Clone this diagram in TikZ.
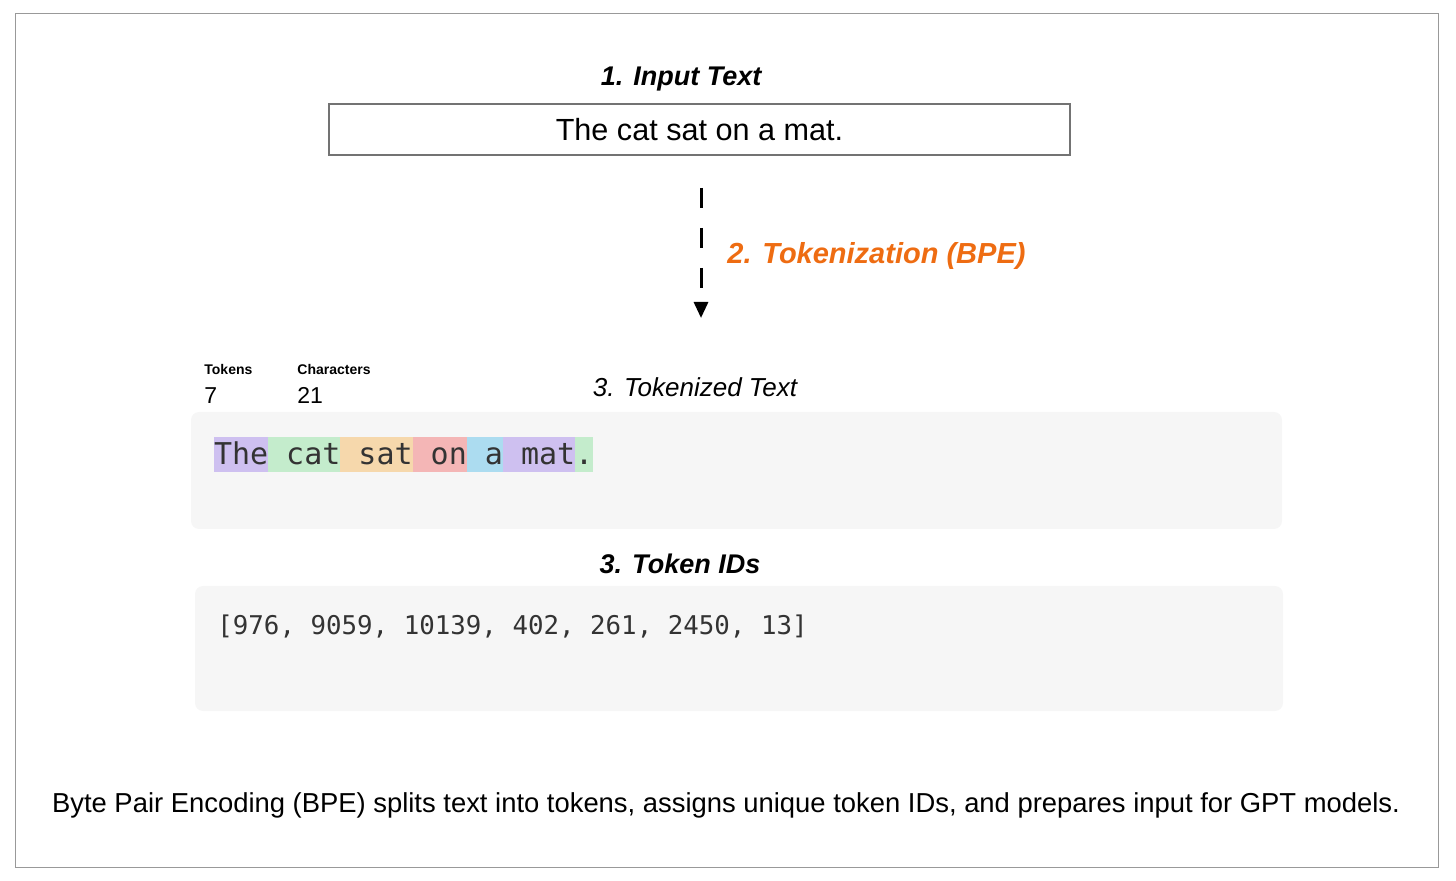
\documentclass[tikz,border=0pt]{standalone}
\usepackage{fontspec}
\setmainfont{Liberation Sans}
\setmonofont{DejaVu Sans Mono}
\usetikzlibrary{arrows.meta,positioning}
\definecolor{bpeorange}{RGB}{238,108,18}
\definecolor{codebg}{RGB}{246,246,246}
\definecolor{tokpurple}{RGB}{206,192,240}
\definecolor{tokgreen}{RGB}{196,236,204}
\definecolor{tokorange}{RGB}{246,216,172}
\definecolor{tokred}{RGB}{244,182,182}
\definecolor{tokblue}{RGB}{172,220,240}
\begin{document}
\begin{tikzpicture}[x=0.5pt,y=-0.5pt,
	title/.style={anchor=base, font=\fontsize{13.5}{16}\selectfont\bfseries\itshape},
	plain/.style={anchor=base west, inner sep=0pt},
	codebox/.style={fill=codebg, rounded corners=4pt},
	tok/.style={inner sep=0pt, outer sep=0pt, text height=14pt, text depth=3.5pt, font=\fontsize{15}{18}\selectfont\ttfamily, text=black!80},
	]
	\useasboundingbox (0,0) rectangle (1456,881);
	\draw[black!40, line width=0.5pt] (15,14) rectangle (1438,867);
	\node[title] (intitle) at (681,86) {1. Input Text};
	\node[draw=black!55, line width=0.8pt, minimum width=370.5pt, minimum height=25.5pt, inner sep=0pt, font=\fontsize{15.3}{18}\selectfont] (inbox) at (699.5,129.5) {The cat sat on a mat.};
	\coordinate (arrtop) at (701,188);
	\coordinate (arrtip) at (701,318);
	\draw[line width=1.5pt, dash pattern=on 10pt off 10pt, -{Triangle[width=7pt,length=8pt]}] (arrtop) -- (arrtip);
	\node[title, anchor=base west, inner sep=0pt, text=bpeorange, font=\fontsize{14.5}{17}\selectfont\bfseries\itshape] (bpe) at (727,264) {2. Tokenization (BPE)};
	\node[plain, font=\fontsize{7}{8}\selectfont\bfseries] (ntoklab) at (204,375) {Tokens};
	\node[plain, font=\fontsize{11.5}{13}\selectfont] (ntok) at (204,404) {7};
	\node[plain, font=\fontsize{7}{8}\selectfont\bfseries] (ncharlab) at (297,375) {Characters};
	\node[plain, font=\fontsize{11.5}{13}\selectfont] (nchar) at (297,404) {21};
	\node[title, font=\fontsize{13}{16}\selectfont\itshape] (toktitle) at (695,397) {3. Tokenized Text};
	\fill[codebox] (191,412) rectangle (1282,529);
	\node[tok, fill=tokpurple, anchor=base west] (t1) at (214,465) {The};
	\node[tok, fill=tokgreen, right=0pt of t1] (t2) {\hphantom{x}cat};
	\node[tok, fill=tokorange, right=0pt of t2] (t3) {\hphantom{x}sat};
	\node[tok, fill=tokred, right=0pt of t3] (t4) {\hphantom{x}on};
	\node[tok, fill=tokblue, right=0pt of t4] (t5) {\hphantom{x}a};
	\node[tok, fill=tokpurple, right=0pt of t5] (t6) {\hphantom{x}mat};
	\node[tok, fill=tokgreen, right=0pt of t6] (t7) {.};
	\node[title] (idtitle) at (680,574) {3. Token IDs};
	\fill[codebox] (195,586) rectangle (1283,711);
	\node[plain, font=\fontsize{12.9}{15}\selectfont\ttfamily, text=black!80] (ids) at (217,634) {[976, 9059, 10139, 402, 261, 2450, 13]};
	\node[anchor=base, font=\fontsize{13.7}{16}\selectfont] (caption) at (726,812) {Byte Pair Encoding (BPE) splits text into tokens, assigns unique token IDs, and prepares input for GPT models.};
\end{tikzpicture}
\end{document}
